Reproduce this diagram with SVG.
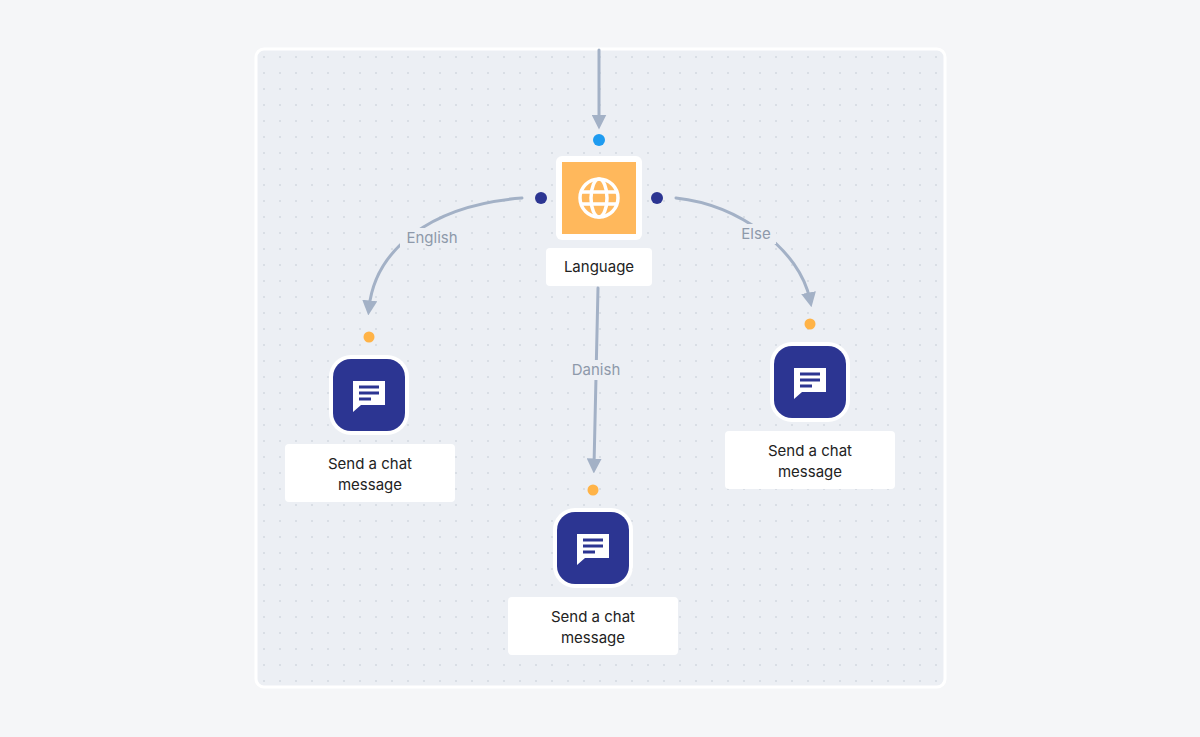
<svg xmlns="http://www.w3.org/2000/svg" width="1200" height="737" viewBox="0 0 1200 737">
<style>
.lbl{font-family:"Inter","Liberation Sans",sans-serif;font-size:15px;fill:#222;text-anchor:middle}
.el{font-family:"Inter","Liberation Sans",sans-serif;font-size:15px;fill:#8e99aa;text-anchor:middle}
.box{fill:#fff}
.edge{fill:none;stroke:#a3b1c6;stroke-width:3;stroke-linecap:round}
.blue{fill:#2c3592}
</style>
<defs>
<pattern id="dots" width="16" height="16" patternUnits="userSpaceOnUse" x="256" y="49"><circle cx="8" cy="8" r="1" fill="#d3d8e0"/></pattern>
<marker id="ar" viewBox="0 0 10 10" refX="5" refY="5" markerWidth="5" markerHeight="5" orient="auto"><path d="M0,0L10,5L0,10z" fill="#a3b1c6"/></marker>
<g id="chat"><rect x="-40" y="-40" width="80" height="80" rx="22" fill="#fff"/><rect x="-36" y="-36" width="72" height="72" rx="18" class="blue"/><path d="M-16,-14h32v24h-24l-8,7z" fill="#fff"/><path d="M-10,-8h20M-10,-2h20M-10,4h12" stroke="#2c3592" stroke-width="3"/></g>
</defs>
<rect width="1200" height="737" fill="#f5f6f8"/>
<rect x="256" y="49" width="689" height="638" rx="8" fill="#eceff4" stroke="#fff" stroke-width="3"/>
<rect x="258" y="51" width="685" height="634" rx="7" fill="url(#dots)"/>
<g id="connectors">
<path class="edge" d="M599,50V122" marker-end="url(#ar)"/>
<path class="edge" d="M522,198C430,205 375,250 369,308" marker-end="url(#ar)"/>
<path class="edge" d="M676,198C740,205 800,250 810,300" marker-end="url(#ar)"/>
<path class="edge" d="M598,288L594,466" marker-end="url(#ar)"/>
<rect x="400" y="228" width="64" height="20" fill="#eceff4"/>
<text class="el" x="432" y="243">English</text>
<rect x="736" y="224" width="40" height="20" fill="#eceff4"/>
<text class="el" x="756" y="239">Else</text>
<rect x="566" y="360" width="60" height="20" fill="#eceff4"/>
<text class="el" x="596" y="375">Danish</text>
</g>
<g id="language">
<circle cx="599" cy="140" r="6" fill="#1e9bf0"/>
<circle cx="541" cy="198" r="6" fill="#2c3592"/>
<circle cx="657" cy="198" r="6" fill="#2c3592"/>
<rect x="556" y="156" width="86" height="84" rx="6" fill="#fff"/>
<rect x="562" y="162" width="74" height="72" fill="#ffb85c"/>
<g fill="none" stroke="#fff" stroke-width="3.5"><circle cx="599" cy="198" r="19"/><ellipse cx="599" cy="198" rx="8" ry="19"/><path d="M580,192h38M580,204h38"/></g>
<rect x="546" y="248" width="106" height="38" rx="4" class="box"/>
<text class="lbl" x="599" y="272">Language</text>
</g>
<g id="chat-english">
<circle cx="369" cy="337" r="5.5" fill="#ffb347"/>
<use href="#chat" x="369" y="395"/>
<rect x="285" y="444" width="170" height="58" rx="4" class="box"/>
<text class="lbl" x="370" y="469">Send a chat</text><text class="lbl" x="370" y="490">message</text>
</g>
<g id="chat-danish">
<circle cx="593" cy="490" r="5.5" fill="#ffb347"/>
<use href="#chat" x="593" y="548"/>
<rect x="508" y="597" width="170" height="58" rx="4" class="box"/>
<text class="lbl" x="593" y="622">Send a chat</text><text class="lbl" x="593" y="643">message</text>
</g>
<g id="chat-else">
<circle cx="810" cy="324" r="5.5" fill="#ffb347"/>
<use href="#chat" x="810" y="382"/>
<rect x="725" y="431" width="170" height="58" rx="4" class="box"/>
<text class="lbl" x="810" y="456">Send a chat</text><text class="lbl" x="810" y="477">message</text>
</g>
</svg>
